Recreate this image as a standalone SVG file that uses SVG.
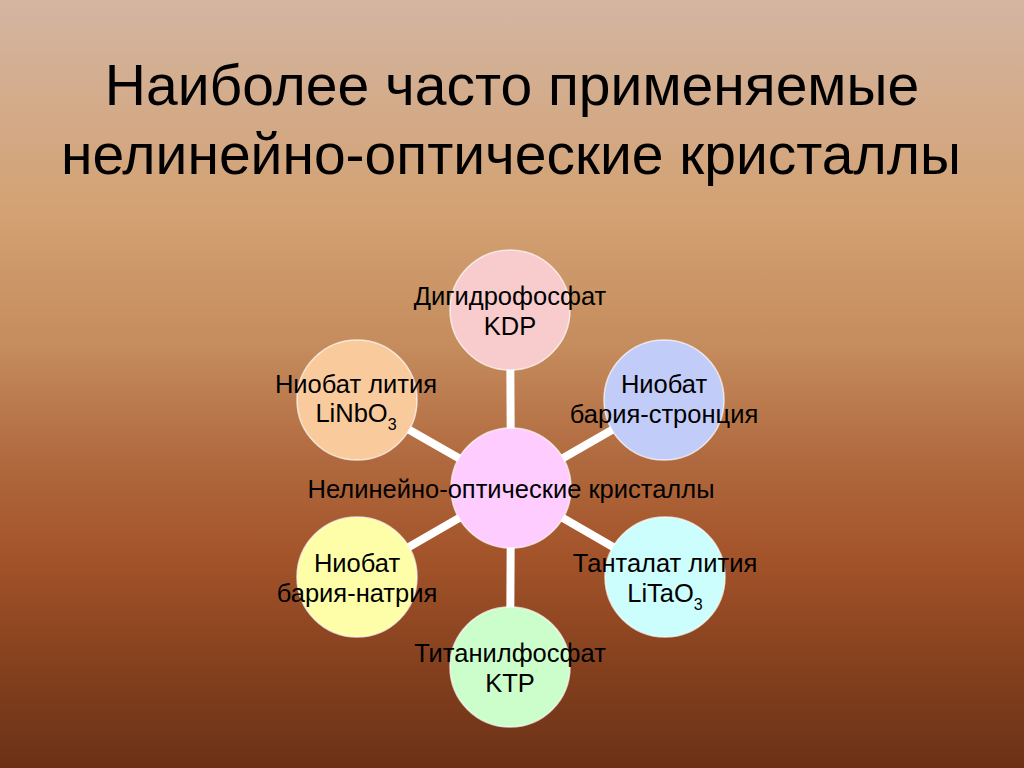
<svg xmlns="http://www.w3.org/2000/svg" width="1024" height="768" viewBox="0 0 1024 768">
<defs>
<linearGradient id="bg" x1="0" y1="0" x2="0" y2="1">
<stop offset="0" stop-color="#D3B5A1"/>
<stop offset="0.28" stop-color="#D3A172"/>
<stop offset="0.45" stop-color="#C58C5D"/>
<stop offset="0.6" stop-color="#B0693E"/>
<stop offset="0.72" stop-color="#A4542A"/>
<stop offset="0.87" stop-color="#84401E"/>
<stop offset="1" stop-color="#6B3216"/>
</linearGradient>
<style>
.t{font-family:"Liberation Sans",Arial,sans-serif;fill:#000;text-anchor:middle}
.title{font-size:57px}
.lbl{font-size:25.5px}
.sub{font-size:16px}
.node circle{stroke:#FFFFFF;stroke-opacity:0.7;stroke-width:1.5}
.conn line{stroke:#FFFFFF;stroke-width:8}
</style>
</defs>
<rect width="1024" height="768" fill="url(#bg)"/>
<text class="t title" x="512" y="105">Наиболее часто применяемые</text>
<text class="t title" x="511" y="174">нелинейно-оптические кристаллы</text>
<g class="conn">
<line x1="511" y1="488" x2="510" y2="310"/>
<line x1="511" y1="488" x2="357" y2="400"/>
<line x1="511" y1="488" x2="664" y2="400"/>
<line x1="511" y1="488" x2="357" y2="577"/>
<line x1="511" y1="488" x2="665" y2="577"/>
<line x1="511" y1="488" x2="510" y2="667"/>
</g>
<g id="n-kdp" class="node"><circle cx="510" cy="310" r="60" fill="#F8CCCC"/></g>
<g id="n-linbo3" class="node"><circle cx="357" cy="400" r="60" fill="#F9CA9C"/></g>
<g id="n-bsn" class="node"><circle cx="664" cy="400" r="60" fill="#C2CCF8"/></g>
<g id="n-center" class="node"><circle cx="511" cy="488" r="60" fill="#FECCFE"/></g>
<g id="n-bnn" class="node"><circle cx="357" cy="577" r="60" fill="#FEFEA8"/></g>
<g id="n-litao3" class="node"><circle cx="665" cy="577" r="60" fill="#CCFEFE"/></g>
<g id="n-ktp" class="node"><circle cx="510" cy="667" r="60" fill="#CCFECC"/></g>
<g id="labels">
<text class="t lbl" x="510" y="305">Дигидрофосфат</text>
<text class="t lbl" x="510" y="335">KDP</text>
<text class="t lbl" x="356" y="393">Ниобат лития</text>
<text class="t lbl" x="356" y="422">LiNbO<tspan class="sub" dy="8">3</tspan></text>
<text class="t lbl" x="664" y="393">Ниобат</text>
<text class="t lbl" x="664" y="423">бария-стронция</text>
<text class="t lbl" x="511" y="498">Нелинейно-оптические кристаллы</text>
<text class="t lbl" x="357" y="572">Ниобат</text>
<text class="t lbl" x="357" y="602">бария-натрия</text>
<text class="t lbl" x="665" y="572">Танталат лития</text>
<text class="t lbl" x="665" y="602">LiTaO<tspan class="sub" dy="8">3</tspan></text>
<text class="t lbl" x="510" y="662">Титанилфосфат</text>
<text class="t lbl" x="510" y="692">KTP</text>
</g>
</svg>
